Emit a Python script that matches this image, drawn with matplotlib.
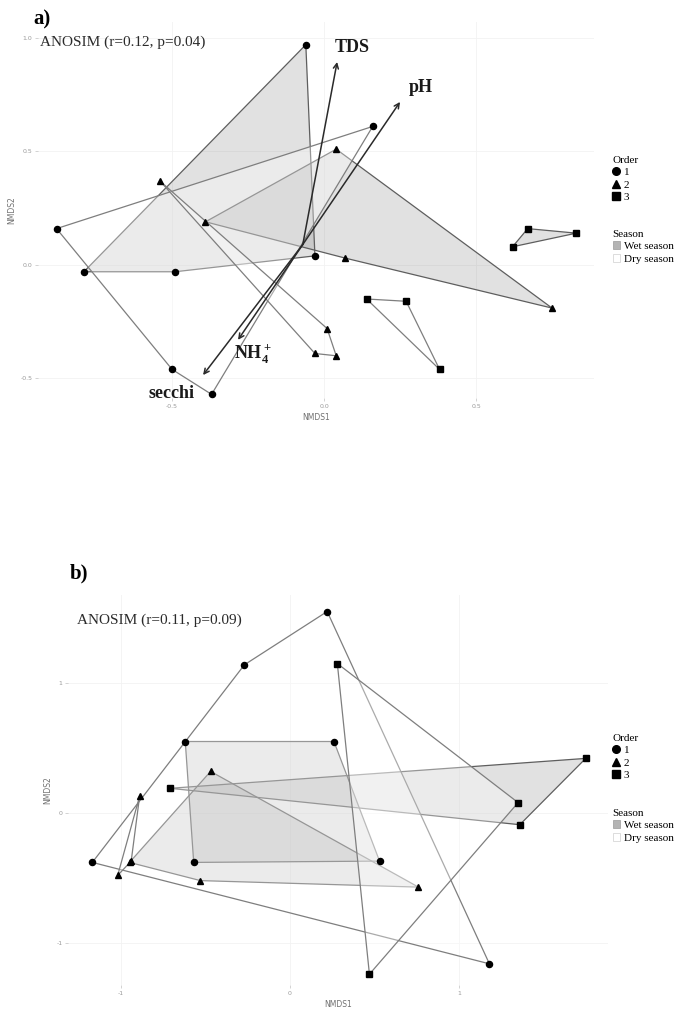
import numpy as np
import matplotlib
matplotlib.use("Agg")
import matplotlib.pyplot as plt
from matplotlib.patches import Polygon, Patch
from matplotlib.lines import Line2D

plt.rcParams['mathtext.fontset'] = 'custom'
plt.rcParams['mathtext.rm'] = 'Liberation Serif:bold'

# panel a: NMDS scores per (order, season) group
a_circ_wet_x = [-0.06, -0.79, -0.49, -0.03]
a_circ_wet_y = [0.97, -0.03, -0.03, 0.04]
a_circ_dry_x = [-0.88, 0.16, -0.37, -0.50]
a_circ_dry_y = [0.16, 0.61, -0.57, -0.46]
a_tri_wet_x = [-0.39, 0.04, 0.75, 0.07]
a_tri_wet_y = [0.19, 0.51, -0.19, 0.03]
a_tri_dry_x = [-0.54, 0.01, 0.04, -0.03]
a_tri_dry_y = [0.37, -0.28, -0.40, -0.39]
a_sq_wet_x = [0.67, 0.83, 0.62]
a_sq_wet_y = [0.16, 0.14, 0.08]
a_sq_dry_x = [0.14, 0.27, 0.38]
a_sq_dry_y = [-0.15, -0.16, -0.46]

# environmental vectors (panel a)
vec_names = ['TDS', 'pH', r'NH$\mathrm{_4^+}$', 'secchi']
vec_x0, vec_y0 = -0.07, 0.09
vec_x = [0.043, 0.250, -0.283, -0.398]
vec_y = [0.894, 0.718, -0.330, -0.485]
vec_lab_x = [0.092, 0.319, -0.234, -0.503]
vec_lab_y = [0.956, 0.780, -0.396, -0.564]

# panel b
b_circ_wet_x = [-0.62, 0.26, 0.53, -0.57]
b_circ_wet_y = [0.55, 0.55, -0.37, -0.38]
b_circ_dry_x = [-1.17, -0.27, 0.22, 1.18]
b_circ_dry_y = [-0.38, 1.14, 1.55, -1.16]
b_tri_wet_x = [-0.47, 0.76, -0.53, -0.95]
b_tri_wet_y = [0.32, -0.57, -0.52, -0.38]
b_tri_dry_x = [-0.89, -1.02, -0.94]
b_tri_dry_y = [0.13, -0.48, -0.37]
b_sq_wet_x = [-0.71, 1.75, 1.36]
b_sq_wet_y = [0.19, 0.42, -0.09]
b_sq_dry_x = [0.28, 1.35, 0.47]
b_sq_dry_y = [1.15, 0.08, -1.24]


def hull(xs, ys):
    pts = sorted(zip(xs, ys))
    def cross(o, a, b):
        return (a[0]-o[0])*(b[1]-o[1]) - (a[1]-o[1])*(b[0]-o[0])
    lower, upper = [], []
    for p in pts:
        while len(lower) >= 2 and cross(lower[-2], lower[-1], p) <= 0:
            lower.pop()
        lower.append(p)
    for p in reversed(pts):
        while len(upper) >= 2 and cross(upper[-2], upper[-1], p) <= 0:
            upper.pop()
        upper.append(p)
    return np.array(lower[:-1] + upper[:-1])


def draw_groups(ax, groups):
    for xs, ys, marker, season in groups:
        if season == 'wet':
            poly = Polygon(hull(xs, ys), closed=True, facecolor=(0.42, 0.42, 0.42, 0.2),
                           edgecolor='#5e5e5e', lw=0.9, zorder=2)
        else:
            poly = Polygon(hull(xs, ys), closed=True, facecolor=(1, 1, 1, 0.35),
                           edgecolor='#7e7e7e', lw=0.9, zorder=2)
        ax.add_patch(poly)
    for xs, ys, marker, season in groups:
        ms = 4.6 if marker == 's' else 4.4
        ax.plot(xs, ys, ls='', marker=marker, color='black', ms=ms, zorder=4)


def style_axes(ax, ticks_x, ticks_y, labels_x, labels_y):
    for s in ax.spines.values():
        s.set_visible(False)
    ax.set_xticks(ticks_x)
    ax.set_xticklabels(labels_x)
    ax.set_yticks(ticks_y)
    ax.set_yticklabels(labels_y)
    ax.tick_params(length=2, width=0.5, color='#c0c0c0', labelsize=4.5,
                   labelcolor='#9a9a9a', pad=2)
    ax.grid(True, color='#f2f2f2', lw=0.6, zorder=0)
    ax.set_axisbelow(True)
    ax.set_xlabel('NMDS1', fontsize=5.5, color='#707070', labelpad=3)
    ax.set_ylabel('NMDS2', fontsize=5.5, color='#707070', labelpad=3)


fig = plt.figure(figsize=(6.85, 10.18), dpi=100)
serif = 'Liberation Serif'

# ---- panel a
ax1 = fig.add_axes([38/685, 1-398/1018, 556/685, 376/1018])
ax1.set_xlim(-0.941, 0.888)
ax1.set_ylim(-0.586, 1.070)
style_axes(ax1, [-0.5, 0.0, 0.5], [-0.5, 0.0, 0.5, 1.0],
           ['-0.5', '0.0', '0.5'], ['-0.5', '0.0', '0.5', '1.0'])
draw_groups(ax1, [
    (a_circ_wet_x, a_circ_wet_y, 'o', 'wet'),
    (a_tri_wet_x, a_tri_wet_y, '^', 'wet'),
    (a_sq_wet_x, a_sq_wet_y, 's', 'wet'),
    (a_circ_dry_x, a_circ_dry_y, 'o', 'dry'),
    (a_tri_dry_x, a_tri_dry_y, '^', 'dry'),
    (a_sq_dry_x, a_sq_dry_y, 's', 'dry'),
])
for name, x, y, lx, ly in zip(vec_names, vec_x, vec_y, vec_lab_x, vec_lab_y):
    ax1.annotate('', xy=(x, y), xytext=(vec_x0, vec_y0),
                 arrowprops=dict(arrowstyle='->', color='#2a2a2a', lw=1.1,
                                 shrinkA=0, shrinkB=0, mutation_scale=9), zorder=5)
    ax1.text(lx, ly, name, family=serif, fontweight='bold', fontsize=13,
             ha='center', va='center', color='#1a1a1a', zorder=6)
ax1.text(0.003, 0.945, 'ANOSIM (r=0.12, p=0.04)', transform=ax1.transAxes,
         family=serif, fontsize=11, color='#2a2a2a', va='center', ha='left')
fig.text(33/685, 1-19/1018, 'a)', family=serif, fontweight='bold', fontsize=15,
         va='center', ha='left')

# ---- panel b
ax2 = fig.add_axes([68/685, 33/1018, 540/685, 390/1018])
ax2.set_xlim(-1.314, 1.882)
ax2.set_ylim(-1.323, 1.677)
style_axes(ax2, [-1, 0, 1], [-1, 0, 1], ['-1', '0', '1'], ['-1', '0', '1'])
draw_groups(ax2, [
    (b_circ_wet_x, b_circ_wet_y, 'o', 'wet'),
    (b_tri_wet_x, b_tri_wet_y, '^', 'wet'),
    (b_sq_wet_x, b_sq_wet_y, 's', 'wet'),
    (b_circ_dry_x, b_circ_dry_y, 'o', 'dry'),
    (b_tri_dry_x, b_tri_dry_y, '^', 'dry'),
    (b_sq_dry_x, b_sq_dry_y, 's', 'dry'),
])
ax2.text(0.017, 0.935, 'ANOSIM (r=0.11, p=0.09)', transform=ax2.transAxes,
         family=serif, fontsize=11, color='#2a2a2a', va='center', ha='left')
fig.text(70/685, 1-573/1018, 'b)', family=serif, fontweight='bold', fontsize=15,
         va='center', ha='left')

# ---- legends
order_handles = [Line2D([], [], ls='', marker=m, color='black', ms=5.5) for m in ['o', '^', 's']]
order_labels = ['1', '2', '3']
season_handles = [Patch(facecolor='#b4b4b4', edgecolor='#9a9a9a', lw=0.5),
                  Patch(facecolor='white', edgecolor='#cfcfcf', lw=0.5)]
season_labels = ['Wet season', 'Dry season']
leg_kw = dict(frameon=False, prop={'family': serif, 'size': 8}, handlelength=0.7,
              handleheight=0.7, handletextpad=0.3, labelspacing=0.25, borderpad=0,
              alignment='left', title_fontproperties={'family': serif, 'size': 8})
for top_order, top_season in [(150, 224), (728, 803)]:
    fig.legend(order_handles, order_labels, title='Order', loc='upper left',
               bbox_to_anchor=(607/685, 1-top_order/1018), **leg_kw)
    fig.legend(season_handles, season_labels, title='Season', loc='upper left',
               bbox_to_anchor=(607/685, 1-top_season/1018), **leg_kw)

fig.savefig('out.png', dpi=100, facecolor='white')
